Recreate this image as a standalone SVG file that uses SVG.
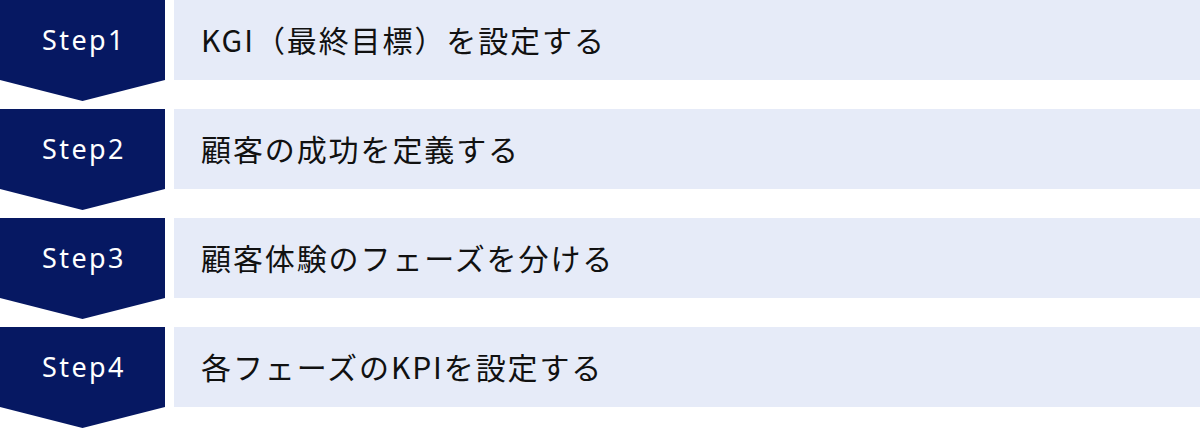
<svg xmlns="http://www.w3.org/2000/svg" width="1200" height="429" viewBox="0 0 1200 429">
<style>
.arrow{fill:#061862}
.box{fill:#e6ebf8}
.step{font-family:"Noto Sans","Noto Sans CJK JP",sans-serif;font-size:27px;fill:#ffffff;letter-spacing:2.4px;text-anchor:middle}
.label{font-family:"Noto Sans CJK JP","Noto Sans",sans-serif;font-size:30px;fill:#111111;letter-spacing:1.9px}
</style>
<rect width="1200" height="429" fill="#ffffff"/>
<g id="step1">
<polygon class="arrow" points="0,0 165,0 165,80 82.5,101 0,80"/>
<rect class="box" x="174" y="0" width="1026" height="80"/>
<text class="step" x="84" y="49.5">Step1</text>
<text class="label" x="201" y="51.5">KGI（最終目標）を設定する</text>
</g>
<g id="step2">
<polygon class="arrow" points="0,109 165,109 165,189 82.5,210 0,189"/>
<rect class="box" x="174" y="109" width="1026" height="80"/>
<text class="step" x="84" y="158.5">Step2</text>
<text class="label" x="201" y="160.5">顧客の成功を定義する</text>
</g>
<g id="step3">
<polygon class="arrow" points="0,218 165,218 165,298 82.5,319 0,298"/>
<rect class="box" x="174" y="218" width="1026" height="80"/>
<text class="step" x="84" y="267.5">Step3</text>
<text class="label" x="201" y="269.5">顧客体験のフェーズを分ける</text>
</g>
<g id="step4">
<polygon class="arrow" points="0,327 165,327 165,407 82.5,428 0,407"/>
<rect class="box" x="174" y="327" width="1026" height="80"/>
<text class="step" x="84" y="376.5">Step4</text>
<text class="label" x="201" y="378.5">各フェーズのKPIを設定する</text>
</g>
<g id="connectors"></g>
</svg>
